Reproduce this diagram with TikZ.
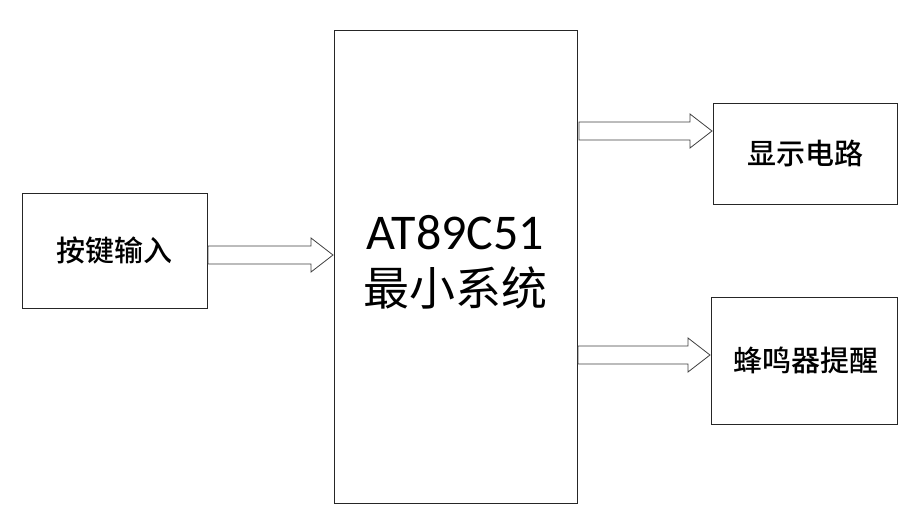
\documentclass[tikz,border=0pt]{standalone}
\usepackage{fontspec}
\setmainfont{Noto Sans CJK SC}
\newfontfamily\midcjk{Noto Sans CJK SC Medium}
\newfontfamily\lat{Carlito}
\begin{document}
\begin{tikzpicture}[x=1pt,y=-1pt,
  box/.style={draw=black!85,line width=0.9pt,inner sep=0pt},
  lbl/.style={font=\midcjk\fontsize{29}{32}\selectfont},
  barrow/.style={draw=black!75,line width=0.8pt,fill=white}]
\useasboundingbox (0,0) rectangle (908,520);
\node[box,minimum width=185pt,minimum height=115pt] (in) at (114.5,250.5) {};
\node[lbl] at (in.center) {按键输入};
\node[box,minimum width=243pt,minimum height=473pt] (mcu) at (455.5,266.5) {};
\node[font=\fontsize{46}{50}\selectfont,align=center] at (455.5,262) {{\lat\fontsize{50}{54}\selectfont AT89C51}\\[6pt]最小系统};
\node[box,minimum width=184pt,minimum height=101pt] (disp) at (805,153.5) {};
\node[lbl] at (disp.center) {显示电路};
\node[box,minimum width=186pt,minimum height=127pt] (buz) at (804,360.5) {};
\node[lbl] at ([xshift=2pt]buz.center) {蜂鸣器提醒};
\newcommand{\blockarrow}[3]{% x1, x2, y
  \draw[barrow] (#1,#3-9) -- (#2-22,#3-9) -- (#2-22,#3-17) -- (#2,#3) -- (#2-22,#3+17) -- (#2-22,#3+9) -- (#1,#3+9) -- cycle;}
\blockarrow{208}{333}{255}
\blockarrow{579}{712}{131}
\blockarrow{578}{710}{355}
\end{tikzpicture}
\end{document}
